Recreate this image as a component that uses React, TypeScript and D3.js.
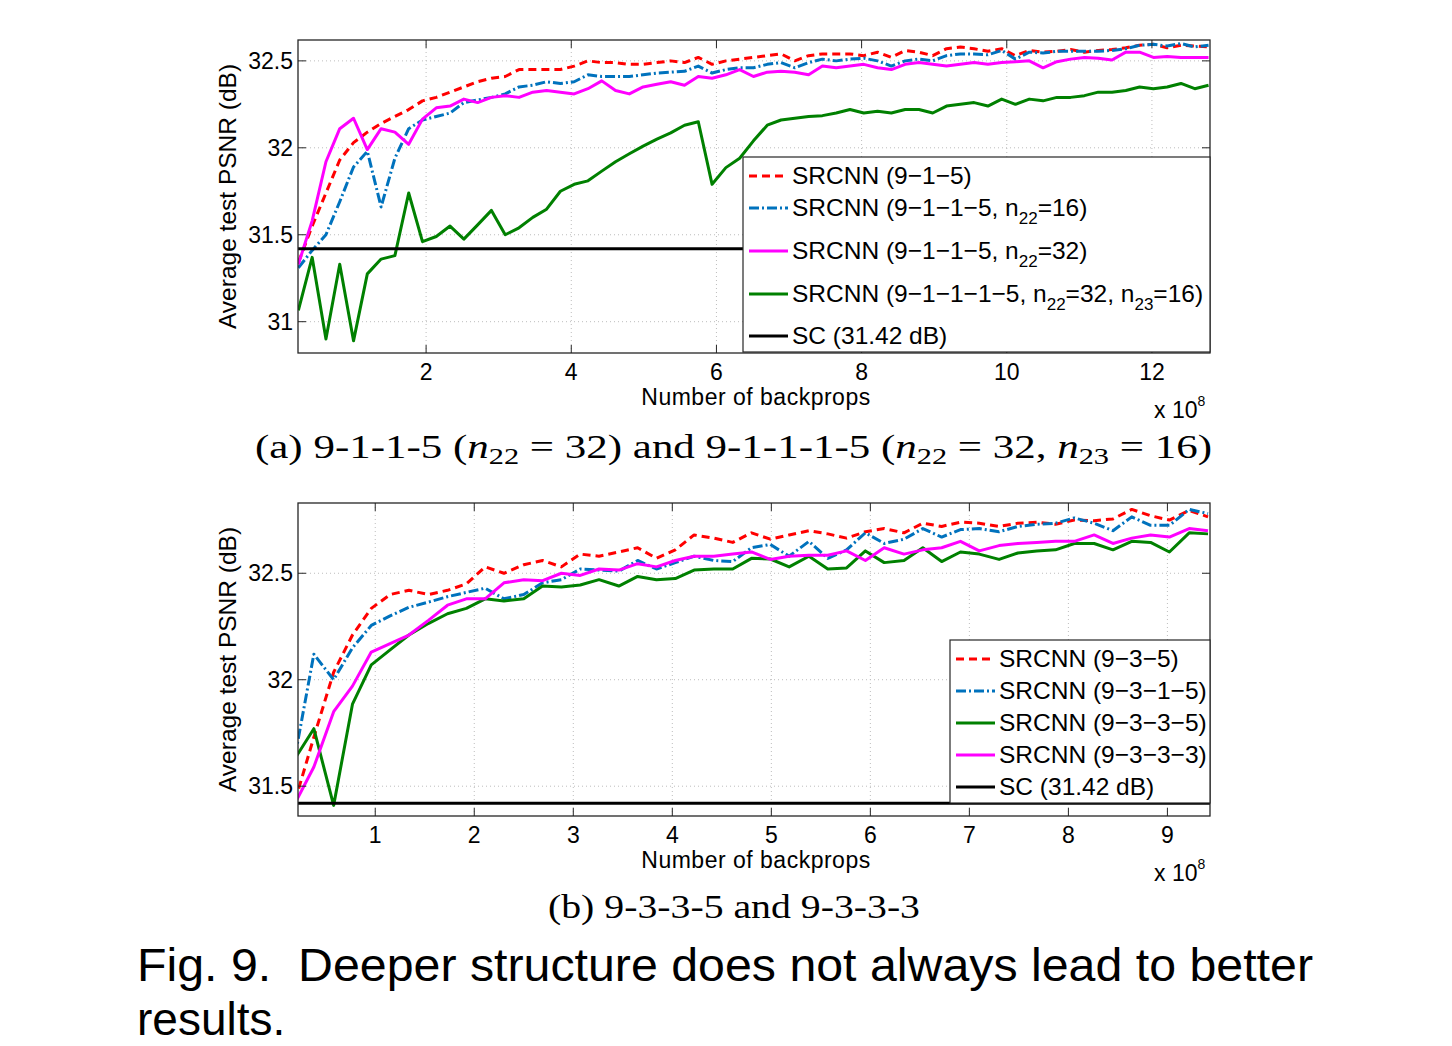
import * as d3 from 'd3'

// panel (a): 9-1-5 against the deeper 9-1-1-5 / 9-1-1-1-5 nets (x in 1e8 backprops)
const BACKPROPS_A = [
  0.24, 0.43, 0.62, 0.81, 1.0, 1.19, 1.38, 1.57, 1.76, 1.95, 2.14, 2.33, 2.52, 2.71, 2.9, 3.09, 3.28,
  3.47, 3.66, 3.85, 4.04, 4.23, 4.42, 4.61, 4.8, 4.99, 5.18, 5.37, 5.56, 5.75, 5.94, 6.13, 6.32, 6.51,
  6.7, 6.89, 7.08, 7.27, 7.46, 7.65, 7.84, 8.03, 8.22, 8.41, 8.6, 8.79, 8.98, 9.17, 9.36, 9.55, 9.74,
  9.93, 10.12, 10.31, 10.5, 10.69, 10.88, 11.07, 11.26, 11.45, 11.64, 11.83, 12.02, 12.21, 12.4, 12.59,
  12.78,
]
const PSNR_A_915 = [
  31.34, 31.55, 31.74, 31.93, 32.03, 32.09, 32.14, 32.18, 32.22, 32.27, 32.29, 32.32, 32.35, 32.38,
  32.4, 32.41, 32.45, 32.45, 32.45, 32.45, 32.47, 32.5, 32.49, 32.49, 32.48, 32.48, 32.49, 32.5, 32.49,
  32.52, 32.48, 32.5, 32.51, 32.52, 32.53, 32.54, 32.5, 32.53, 32.54, 32.54, 32.54, 32.53, 32.55, 32.52,
  32.56, 32.55, 32.53, 32.57, 32.58, 32.57, 32.555, 32.57, 32.53, 32.56, 32.55, 32.555, 32.565, 32.55,
  32.56, 32.565, 32.575, 32.59, 32.595, 32.575, 32.59, 32.585, 32.58,
]
const PSNR_A_9115_N16 = [
  31.31, 31.41, 31.5, 31.69, 31.89, 31.98, 31.66, 31.94, 32.11, 32.16, 32.18, 32.2, 32.26, 32.275,
  32.29, 32.31, 32.35, 32.36, 32.38, 32.37, 32.38, 32.42, 32.41, 32.41, 32.41, 32.42, 32.43, 32.435,
  32.44, 32.47, 32.43, 32.45, 32.46, 32.46, 32.48, 32.49, 32.46, 32.49, 32.51, 32.5, 32.51, 32.515,
  32.5, 32.47, 32.5, 32.51, 32.5, 32.53, 32.54, 32.54, 32.535, 32.56, 32.51, 32.55, 32.545, 32.555,
  32.555, 32.555, 32.555, 32.56, 32.57, 32.59, 32.595, 32.585, 32.6, 32.58, 32.59,
]
const PSNR_A_9115_N32 = [
  31.33, 31.58, 31.92, 32.11, 32.17, 31.99, 32.11, 32.09, 32.02, 32.165, 32.23, 32.24, 32.28, 32.26,
  32.29, 32.3, 32.29, 32.32, 32.33, 32.32, 32.31, 32.34, 32.385, 32.33, 32.31, 32.35, 32.365, 32.38,
  32.36, 32.41, 32.4, 32.42, 32.45, 32.41, 32.435, 32.44, 32.435, 32.42, 32.47, 32.46, 32.47, 32.48,
  32.46, 32.45, 32.48, 32.49, 32.48, 32.47, 32.48, 32.49, 32.48, 32.49, 32.495, 32.5, 32.46, 32.495,
  32.51, 32.52, 32.515, 32.505, 32.55, 32.55, 32.52, 32.525, 32.52, 32.52, 32.52,
]
const PSNR_A_91115 = [
  31.065, 31.37, 30.9, 31.33, 30.89, 31.275, 31.36, 31.38, 31.74, 31.46, 31.49, 31.55, 31.475, 31.557,
  31.64, 31.5, 31.54, 31.6, 31.647, 31.75, 31.79, 31.81, 31.866, 31.92, 31.966, 32.01, 32.05, 32.086,
  32.13, 32.15, 31.79, 31.886, 31.94, 32.04, 32.13, 32.16, 32.17, 32.18, 32.185, 32.2, 32.22, 32.2,
  32.21, 32.2, 32.22, 32.22, 32.2, 32.24, 32.25, 32.26, 32.24, 32.28, 32.25, 32.28, 32.27, 32.29, 32.29,
  32.3, 32.32, 32.32, 32.33, 32.35, 32.34, 32.35, 32.37, 32.34, 32.36,
]
const X_TICKS_A = [2, 4, 6, 8, 10, 12]
const Y_TICKS_A = [31, 31.5, 32, 32.5]

// panel (b): 9-3-5 family
const BACKPROPS_B = [
  0.19, 0.38, 0.58, 0.77, 0.96, 1.15, 1.34, 1.54, 1.73, 1.92, 2.11, 2.3, 2.5, 2.69, 2.88, 3.07, 3.26,
  3.46, 3.65, 3.84, 4.03, 4.22, 4.42, 4.61, 4.8, 4.99, 5.18, 5.38, 5.57, 5.76, 5.95, 6.14, 6.34, 6.53,
  6.72, 6.91, 7.1, 7.3, 7.49, 7.68, 7.87, 8.06, 8.26, 8.45, 8.64, 8.83, 9.02, 9.22, 9.41,
]
const PSNR_B_935 = [
  31.43, 31.73, 32.035, 32.21, 32.335, 32.4, 32.42, 32.4, 32.42, 32.45, 32.53, 32.5, 32.54, 32.56,
  32.53, 32.59, 32.58, 32.6, 32.62, 32.57, 32.61, 32.68, 32.665, 32.645, 32.69, 32.66, 32.68, 32.7,
  32.685, 32.665, 32.695, 32.71, 32.69, 32.735, 32.72, 32.74, 32.735, 32.72, 32.735, 32.74, 32.73,
  32.75, 32.747, 32.755, 32.8, 32.77, 32.75, 32.795, 32.765,
]
const PSNR_B_9315 = [
  31.64, 32.12, 32.0, 32.15, 32.255, 32.3, 32.34, 32.365, 32.39, 32.41, 32.43, 32.38, 32.4, 32.455,
  32.47, 32.52, 32.515, 32.51, 32.56, 32.52, 32.55, 32.58, 32.56, 32.555, 32.62, 32.635, 32.58, 32.65,
  32.57, 32.61, 32.69, 32.64, 32.66, 32.71, 32.67, 32.705, 32.71, 32.695, 32.72, 32.73, 32.735, 32.76,
  32.735, 32.7, 32.765, 32.725, 32.725, 32.8, 32.78,
]
const PSNR_B_9335 = [
  31.63, 31.77, 31.41, 31.885, 32.07, 32.14, 32.21, 32.265, 32.31, 32.335, 32.38, 32.37, 32.38, 32.44,
  32.435, 32.445, 32.47, 32.44, 32.485, 32.47, 32.475, 32.515, 32.52, 32.52, 32.57, 32.567, 32.53,
  32.58, 32.52, 32.525, 32.605, 32.55, 32.56, 32.62, 32.555, 32.6, 32.59, 32.565, 32.595, 32.605, 32.61,
  32.64, 32.64, 32.61, 32.65, 32.645, 32.6, 32.69, 32.685,
]
const PSNR_B_9333 = [
  31.42, 31.59, 31.85, 31.97, 32.13, 32.17, 32.21, 32.28, 32.35, 32.38, 32.38, 32.455, 32.47, 32.465,
  32.5, 32.49, 32.52, 32.515, 32.545, 32.53, 32.56, 32.58, 32.58, 32.59, 32.6, 32.565, 32.58, 32.585,
  32.585, 32.605, 32.56, 32.62, 32.59, 32.61, 32.62, 32.65, 32.605, 32.63, 32.64, 32.645, 32.65, 32.65,
  32.68, 32.64, 32.665, 32.68, 32.67, 32.71, 32.7,
]
const X_TICKS_B = [1, 2, 3, 4, 5, 6, 7, 8, 9]
const Y_TICKS_B = [31.5, 32, 32.5]

const SC_PSNR = 31.42

const SANS = '"Liberation Sans", Arial, Helvetica, sans-serif'
const SERIF = '"Liberation Serif", "Times New Roman", serif'

type Seg = { t: string; sub?: boolean }
type LineStyle = { stroke: string; dash?: string }

const RED: LineStyle = { stroke: '#ff0000', dash: '8 5' }
const BLUE: LineStyle = { stroke: '#0072bd', dash: '10 3 2 3' }
const MAGENTA: LineStyle = { stroke: '#ff00ff' }
const GREEN: LineStyle = { stroke: '#008000' }
const BLACK: LineStyle = { stroke: '#000000' }

interface Series {
  x: number[]
  y: number[]
  style: LineStyle
}

interface LegendRow {
  style: LineStyle
  label: Seg[]
  dy: number
}

interface PanelProps {
  id: string
  left: number
  top: number
  width: number
  height: number
  xDomain: [number, number]
  yDomain: [number, number]
  xTicks: number[]
  yTicks: number[]
  series: Series[]
  legend: { left: number; top: number; width: number; height: number; rows: LegendRow[] }
}

const SegText = ({ segs }: { segs: Seg[] }) => (
  <>
    {segs.map((s, i) => {
      const prevSub = i > 0 && segs[i - 1].sub
      const dy = s.sub ? 8 : prevSub ? -8 : 0
      return (
        <tspan key={i} dy={dy} fontSize={s.sub ? 17 : undefined}>
          {s.t}
        </tspan>
      )
    })}
  </>
)

const Panel = ({
  id,
  left,
  top,
  width,
  height,
  xDomain,
  yDomain,
  xTicks,
  yTicks,
  series,
  legend,
}: PanelProps) => {
  const x = d3.scaleLinear().domain(xDomain).range([left, left + width])
  const y = d3.scaleLinear().domain(yDomain).range([top + height, top])
  const line = d3
    .line<[number, number]>()
    .x((d) => x(d[0]))
    .y((d) => y(d[1]))
  const bottom = top + height
  const right = left + width
  const tick = 8

  return (
    <g>
      <defs>
        <clipPath id={id}>
          <rect x={left} y={top} width={width} height={height} />
        </clipPath>
      </defs>
      <rect x={left} y={top} width={width} height={height} fill="#fff" />
      {/* dotted grid */}
      {xTicks.map((t) => (
        <line
          key={'gx' + t}
          x1={x(t)}
          x2={x(t)}
          y1={top}
          y2={bottom}
          stroke="#bdbdbd"
          strokeDasharray="1 3"
        />
      ))}
      {yTicks.map((t) => (
        <line
          key={'gy' + t}
          x1={left}
          x2={right}
          y1={y(t)}
          y2={y(t)}
          stroke="#bdbdbd"
          strokeDasharray="1 3"
        />
      ))}
      <g clipPath={`url(#${id})`}>
        {series.map((s, i) => (
          <path
            key={i}
            d={line(s.x.map((v, k) => [v, s.y[k]] as [number, number])) ?? ''}
            fill="none"
            stroke={s.style.stroke}
            strokeDasharray={s.style.dash}
            strokeWidth={3}
            strokeLinejoin="round"
          />
        ))}
        <line
          x1={x(xDomain[0])}
          x2={x(xDomain[1])}
          y1={y(SC_PSNR)}
          y2={y(SC_PSNR)}
          stroke="#000"
          strokeWidth={3}
        />
      </g>
      {/* inward ticks on all four sides */}
      {xTicks.map((t) => (
        <g key={'tx' + t} stroke="#262626" strokeWidth={1}>
          <line x1={x(t)} x2={x(t)} y1={bottom} y2={bottom - tick} />
          <line x1={x(t)} x2={x(t)} y1={top} y2={top + tick} />
        </g>
      ))}
      {yTicks.map((t) => (
        <g key={'ty' + t} stroke="#262626" strokeWidth={1}>
          <line x1={left} x2={left + tick} y1={y(t)} y2={y(t)} />
          <line x1={right} x2={right - tick} y1={y(t)} y2={y(t)} />
        </g>
      ))}
      <rect
        x={left}
        y={top}
        width={width}
        height={height}
        fill="none"
        stroke="#262626"
        strokeWidth={1.3}
      />
      <g fontFamily={SANS} fontSize={23} fill="#000">
        {xTicks.map((t) => (
          <text key={'lx' + t} x={x(t)} y={bottom + 27} textAnchor="middle">
            {t}
          </text>
        ))}
        {yTicks.map((t) => (
          <text key={'ly' + t} x={left - 5} y={y(t) + 8} textAnchor="end">
            {t}
          </text>
        ))}
        <text
          x={left + width / 2 + 2}
          y={bottom + 52}
          textAnchor="middle"
          letterSpacing={0.5}
        >
          Number of backprops
        </text>
        <text x={right - 56} y={bottom + 65}>
          x 10
          <tspan dy={-12} fontSize={14}>
            8
          </tspan>
        </text>
        <text
          transform={`translate(${left - 62},${top + height / 2}) rotate(-90)`}
          textAnchor="middle"
          fontSize={24.5}
        >
          Average test PSNR (dB)
        </text>
      </g>
      {/* legend */}
      <rect
        x={legend.left}
        y={legend.top}
        width={legend.width}
        height={legend.height}
        fill="#fff"
        stroke="#262626"
        strokeWidth={1.2}
      />
      <g fontFamily={SANS} fontSize={24.5} fill="#000">
        {legend.rows.map((r, i) => (
          <g key={i}>
            <line
              x1={legend.left + 6}
              x2={legend.left + 45}
              y1={legend.top + r.dy}
              y2={legend.top + r.dy}
              stroke={r.style.stroke}
              strokeDasharray={r.style.dash}
              strokeWidth={3}
            />
            <text x={legend.left + 49} y={legend.top + r.dy + 8}>
              <SegText segs={r.label} />
            </text>
          </g>
        ))}
      </g>
    </g>
  )
}

const App = () => {
  const seriesA: Series[] = [
    { x: BACKPROPS_A, y: PSNR_A_915, style: RED },
    { x: BACKPROPS_A, y: PSNR_A_9115_N16, style: BLUE },
    { x: BACKPROPS_A, y: PSNR_A_9115_N32, style: MAGENTA },
    { x: BACKPROPS_A, y: PSNR_A_91115, style: GREEN },
  ]
  const seriesB: Series[] = [
    { x: BACKPROPS_B, y: PSNR_B_935, style: RED },
    { x: BACKPROPS_B, y: PSNR_B_9315, style: BLUE },
    { x: BACKPROPS_B, y: PSNR_B_9335, style: GREEN },
    { x: BACKPROPS_B, y: PSNR_B_9333, style: MAGENTA },
  ]

  const legendA: LegendRow[] = [
    { style: RED, label: [{ t: 'SRCNN (9−1−5)' }], dy: 19 },
    {
      style: BLUE,
      label: [{ t: 'SRCNN (9−1−1−5, n' }, { t: '22', sub: true }, { t: '=16)' }],
      dy: 51,
    },
    {
      style: MAGENTA,
      label: [{ t: 'SRCNN (9−1−1−5, n' }, { t: '22', sub: true }, { t: '=32)' }],
      dy: 94,
    },
    {
      style: GREEN,
      label: [
        { t: 'SRCNN (9−1−1−1−5, n' },
        { t: '22', sub: true },
        { t: '=32, n' },
        { t: '23', sub: true },
        { t: '=16)' },
      ],
      dy: 137,
    },
    { style: BLACK, label: [{ t: 'SC (31.42 dB)' }], dy: 179 },
  ]
  const legendB: LegendRow[] = [
    { style: RED, label: [{ t: 'SRCNN (9−3−5)' }], dy: 19 },
    { style: BLUE, label: [{ t: 'SRCNN (9−3−1−5)' }], dy: 51 },
    { style: GREEN, label: [{ t: 'SRCNN (9−3−3−5)' }], dy: 83 },
    { style: MAGENTA, label: [{ t: 'SRCNN (9−3−3−3)' }], dy: 115 },
    { style: BLACK, label: [{ t: 'SC (31.42 dB)' }], dy: 147 },
  ]

  const it = { fontStyle: 'italic' as const }

  return (
    <div style={{ position: 'absolute', left: 0, top: 0 }}>
      <svg width={1452} height={1046} style={{ display: 'block', background: '#fff' }}>
        <Panel
          id="clip-a"
          left={298}
          top={40}
          width={912}
          height={313}
          xDomain={[0.235, 12.8]}
          yDomain={[30.82, 32.62]}
          xTicks={X_TICKS_A}
          yTicks={Y_TICKS_A}
          series={seriesA}
          legend={{ left: 743, top: 157, width: 467, height: 195, rows: legendA }}
        />
        <Panel
          id="clip-b"
          left={298}
          top={503}
          width={912}
          height={313}
          xDomain={[0.22, 9.43]}
          yDomain={[31.36, 32.83]}
          xTicks={X_TICKS_B}
          yTicks={Y_TICKS_B}
          series={seriesB}
          legend={{ left: 950, top: 640, width: 260, height: 163, rows: legendB }}
        />
        <g fontFamily={SERIF} fontSize={34} fill="#000">
          <text
            x={255}
            y={458}
            textLength={957}
            lengthAdjust="spacingAndGlyphs"
            style={{ whiteSpace: 'pre' }}
          >
            (a) 9-1-1-5 (<tspan style={it}>n</tspan>
            <tspan dy={6} fontSize={24}>22</tspan>
            <tspan dy={-6}> = 32) and 9-1-1-1-5 (</tspan>
            <tspan style={it}>n</tspan>
            <tspan dy={6} fontSize={24}>22</tspan>
            <tspan dy={-6}> = 32, </tspan>
            <tspan style={it}>n</tspan>
            <tspan dy={6} fontSize={24}>23</tspan>
            <tspan dy={-6}> = 16)</tspan>
          </text>
          <text x={548} y={918} textLength={372} lengthAdjust="spacingAndGlyphs">
            (b) 9-3-3-5 and 9-3-3-3
          </text>
        </g>
        <g fontFamily={SANS} fontSize={46} fill="#000">
          <text
            x={137}
            y={981}
            textLength={1176}
            lengthAdjust="spacingAndGlyphs"
            style={{ whiteSpace: 'pre' }}
          >
            {'Fig. 9.  Deeper structure does not always lead to better'}
          </text>
          <text x={137} y={1035}>
            results.
          </text>
        </g>
      </svg>
    </div>
  )
}

export default App
